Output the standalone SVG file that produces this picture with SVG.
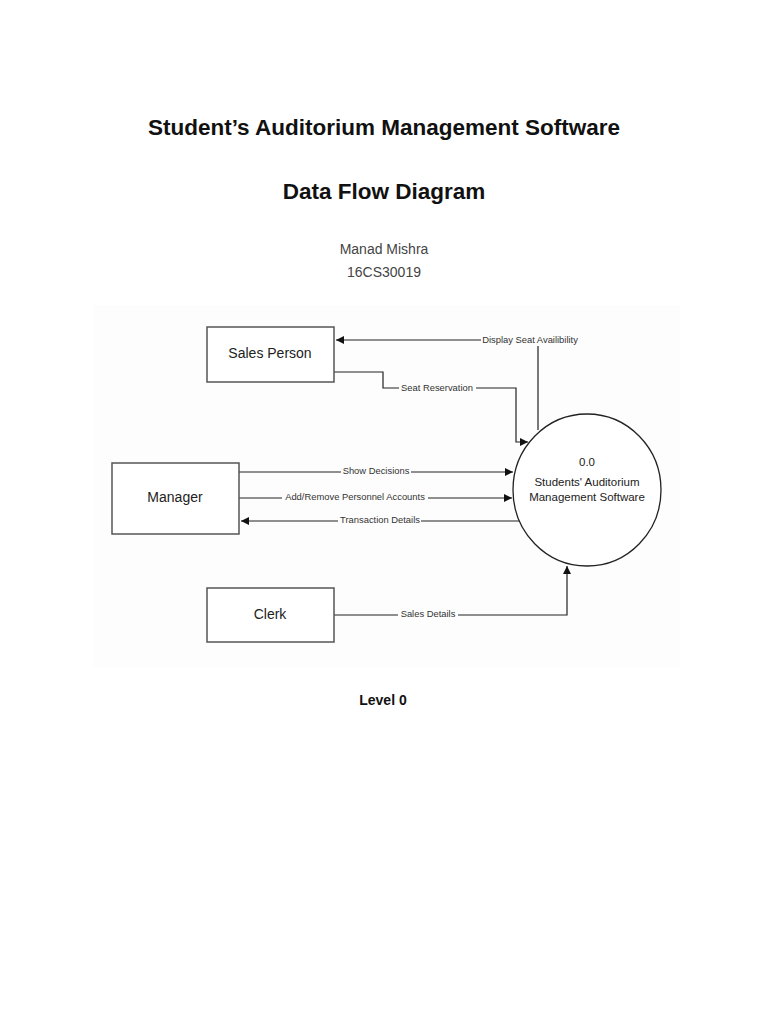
<svg xmlns="http://www.w3.org/2000/svg" width="768" height="1024" viewBox="0 0 768 1024">
<style>
.t{font-family:"Liberation Sans",Arial,sans-serif;text-anchor:middle;fill:#111}
.title{font-size:22.5px;font-weight:bold}
.sub{font-size:14px;fill:#444}
.box{fill:#fff;stroke:#555;stroke-width:1.5}
.nl{font-size:14px;fill:#222}
.pl{font-size:11.5px;fill:#222}
.fl{font-family:"Liberation Sans",Arial,sans-serif;font-size:9.4px;fill:#333;text-anchor:middle}
.c{fill:none;stroke:#222;stroke-width:1.2}
.lb{fill:#fdfdfd}
</style>
<defs>
<marker id="ah" viewBox="0 0 10 10" refX="10" refY="5" markerWidth="10" markerHeight="8" markerUnits="userSpaceOnUse" orient="auto">
<path d="M0,0 L10,5 L0,10 z" fill="#111"/>
</marker>
</defs>
<rect width="768" height="1024" fill="#fff"/>
<rect x="93" y="305" width="587" height="363" fill="#fdfdfd"/>
<text class="t title" x="384" y="135">Student’s Auditorium Management Software</text>
<text class="t title" x="384" y="199">Data Flow Diagram</text>
<text class="t sub" x="384" y="254">Manad Mishra</text>
<text class="t sub" x="384" y="277">16CS30019</text>

<g id="connectors">
<path class="c" d="M538,430 V340 H336" marker-end="url(#ah)"/>
<rect class="lb" x="481" y="334" width="99" height="12"/>
<text class="fl" x="530" y="343">Display Seat Availibility</text>

<path class="c" d="M334,372 H383 V388 H516 V442 H528" marker-end="url(#ah)"/>
<rect class="lb" x="399" y="383" width="77" height="11"/>
<text class="fl" x="437" y="391">Seat Reservation</text>

<path class="c" d="M239,472 H513" marker-end="url(#ah)"/>
<rect class="lb" x="341" y="466" width="70" height="11"/>
<text class="fl" x="376" y="474">Show Decisions</text>

<path class="c" d="M239,498 H512" marker-end="url(#ah)"/>
<rect class="lb" x="282" y="492" width="146" height="11"/>
<text class="fl" x="355" y="500">Add/Remove Personnel Accounts</text>

<path class="c" d="M519,521 H241" marker-end="url(#ah)"/>
<rect class="lb" x="338" y="515" width="83" height="11"/>
<text class="fl" x="380" y="523">Transaction Details</text>

<path class="c" d="M334,615 H567 V566" marker-end="url(#ah)"/>
<rect class="lb" x="398" y="609" width="60" height="11"/>
<text class="fl" x="428" y="617">Sales Details</text>
</g>

<g id="sales-person">
<rect class="box" x="207" y="327" width="127" height="55"/>
<text class="t nl" x="270" y="358">Sales Person</text>
</g>
<g id="manager">
<rect class="box" x="112" y="463" width="127" height="71"/>
<text class="t nl" x="175" y="502">Manager</text>
</g>
<g id="clerk">
<rect class="box" x="207" y="588" width="127" height="54"/>
<text class="t nl" x="270" y="619">Clerk</text>
</g>
<g id="process">
<ellipse cx="587" cy="490" rx="74" ry="76" fill="#fff" stroke="#222" stroke-width="1.3"/>
<text class="t pl" x="587" y="466">0.0</text>
<text class="t pl" x="587" y="486">Students' Auditorium</text>
<text class="t pl" x="587" y="501">Management Software</text>
</g>
<text class="t" x="383" y="705" style="font-size:14px;font-weight:bold">Level 0</text>
</svg>
